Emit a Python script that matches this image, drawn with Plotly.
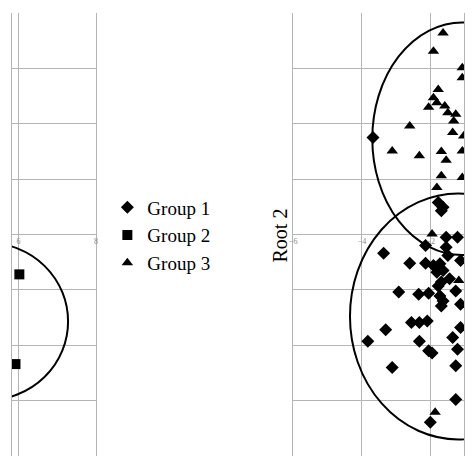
import plotly.graph_objects as go

# Group 3 (triangles), right panel
g3_x = [-1.64, -1.92, -1.08, -1.08, -1.78, -1.92, -2.06, -1.82, -1.59, -1.50, -1.27, -1.33, -2.61,
        -1.36, -1.04, -3.12, -2.33, -1.69, -1.55, -1.08, -1.69, -1.08, -1.82, -1.96, -1.18, -1.87]
g3_y = [3.64, 3.31, 3.01, 2.83, 2.62, 2.47, 2.30, 2.38, 2.32, 2.20, 2.17, 2.05, 1.96,
        1.84, 1.78, 1.51, 1.42, 1.50, 1.34, 1.51, 1.06, 1.03, 0.85, 0.01, -0.83, -3.21]

# Group 1 (diamonds), right panel
g1_x = [-3.68, -1.78, -1.64, -1.69, -1.55, -1.22, -2.15, -1.55, -1.50, -3.37, -2.61, -2.15, -1.92,
        -1.73, -1.82, -1.64, -1.13, -1.45, -1.69, -1.78, -2.93, -2.35, -2.06, -1.27, -1.73, -1.64,
        -1.69, -1.13, -2.56, -2.33, -2.10, -1.13, -3.31, -3.83, -2.33, -1.36, -2.06, -1.96, -1.22,
        -3.12, -1.27, -1.27, -2.01]
g1_y = [1.75, 0.58, 0.49, 0.43, -0.05, -0.05, -0.20, -0.23, -0.38, -0.34, -0.52, -0.52, -0.56,
        -0.53, -0.68, -0.65, -0.47, -0.80, -0.86, -0.93, -1.04, -1.08, -1.06, -1.02, -1.11, -1.20,
        -1.29, -1.26, -1.59, -1.59, -1.56, -1.68, -1.72, -1.93, -1.93, -1.86, -2.10, -2.14, -2.07,
        -2.40, -2.37, -2.98, -3.39]

# Group 2 (squares), left panel
g2_x = [6.02, 5.92]
g2_y = [-0.72, -2.34]

# group ellipses: (cx, cy, rx, ry)
left_ellipse = (5.2, -1.57, 2.08, 1.42)
g3_ellipse = (-1.08, 1.73, 2.62, 2.1)
g1_ellipse = (-1.2, -1.48, 3.15, 2.22)

fig = go.Figure()
mk = dict(color="black", size=10)
fig.add_trace(go.Scatter(x=g1_x, y=g1_y, mode="markers", name="Group 1", xaxis="x2", yaxis="y2",
                         marker=dict(symbol="diamond", **mk)))
fig.add_trace(go.Scatter(x=g2_x, y=g2_y, mode="markers", name="Group 2", xaxis="x", yaxis="y",
                         marker=dict(symbol="square", **mk)))
fig.add_trace(go.Scatter(x=g3_x, y=g3_y, mode="markers", name="Group 3", xaxis="x2", yaxis="y2",
                         marker=dict(symbol="triangle-up", **mk)))

for (cx, cy, rx, ry), xr, yr in [(left_ellipse, "x", "y"), (g3_ellipse, "x2", "y2"), (g1_ellipse, "x2", "y2")]:
    fig.add_shape(type="circle", xref=xr, yref=yr, x0=cx - rx, x1=cx + rx, y0=cy - ry, y1=cy + ry,
                  line=dict(color="black", width=2), layer="above")

ydom = [26 / 474, 469 / 474]
zero_pos = (474 - 227) / 474
grid = dict(showgrid=True, gridcolor="#b5b5b5", gridwidth=1, zeroline=False, showline=False)
tickf = dict(size=8, color="#888", family="Liberation Serif")

fig.update_layout(
    autosize=True,
    margin=dict(l=0, r=0, t=0, b=0),
    paper_bgcolor="white", plot_bgcolor="white",
    xaxis=dict(domain=[0, 88 / 474], range=[5.83, 8], dtick=2, anchor="free", position=zero_pos,
               tickfont=tickf, ticks="", **grid),
    yaxis=dict(domain=ydom, range=[-4, 4], dtick=1, showticklabels=False, **grid),
    xaxis2=dict(domain=[295 / 474, 1], range=[-6, -1.03], dtick=2, anchor="free", position=zero_pos,
                tickfont=tickf, ticks="", **grid),
    yaxis2=dict(domain=ydom, range=[-4, 4], dtick=1, anchor="x2", showticklabels=False, **grid),
    legend=dict(x=100 / 474, y=0.52, xanchor="left", yanchor="middle", tracegroupgap=0,
                font=dict(family="Liberation Serif", size=19, color="black"), itemwidth=30),
    annotations=[dict(text="Root 2", x=281 / 474, y=0.52, xref="paper", yref="paper", showarrow=False,
                      textangle=-90, font=dict(family="Liberation Serif", size=20, color="black"))],
)
for ax in ["yaxis", "yaxis2"]:
    fig.layout[ax].showline = True
    fig.layout[ax].linecolor = "#b5b5b5"
    fig.layout[ax].mirror = True

fig.write_html("out.html", default_width="100%", default_height="100vh",
               config={"responsive": True})
